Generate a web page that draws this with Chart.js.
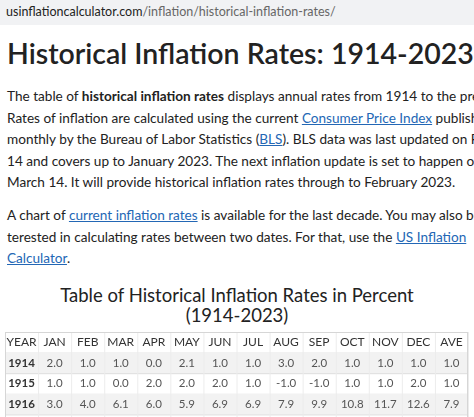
<!DOCTYPE html>
<html><head><meta charset="utf-8">
<script src="https://cdn.jsdelivr.net/npm/chart.js@4/dist/chart.umd.min.js"></script>
<style>
body{margin:0;width:474px;height:417px;overflow:hidden;background:#fff;font-family:Lato,sans-serif;color:#222}
#url{position:absolute;left:0;top:0;width:474px;height:25px;background:#f1f2f4;font-size:12.5px;line-height:24px;padding-left:6px;box-sizing:border-box;color:#666}
#url b{font-weight:normal;color:#222}
h1{position:absolute;left:7px;top:36px;margin:0;font-size:28.5px;font-weight:600;white-space:nowrap;color:#222}
.p{position:absolute;left:7px;font-size:13.6px;line-height:21.5px;color:#222;white-space:nowrap}
a{color:#2367b5;text-decoration:underline}
#tt{position:absolute;left:0;width:474px;top:285px;text-align:center;font-size:18.5px;line-height:20px;color:#222}
#wrap{position:absolute;left:0;top:332px;width:474px;height:103px}
</style></head><body>
<div id="url"><b>usinflationcalculator.com</b>/inflation/historical-inflation-rates/</div>
<h1>Historical Inflation Rates: 1914-2023</h1>
<div class="p" style="top:86px">The table of <b>historical inflation rates</b> displays annual rates from 1914 to the present.<br>Rates of inflation are calculated using the current <a>Consumer Price Index</a> published<br>monthly by the Bureau of Labor Statistics (<a>BLS</a>). BLS data was last updated on Feb.<br>14 and covers up to January 2023. The next inflation update is set to happen on<br>March 14. It will provide historical inflation rates through to February 2023.</div>
<div class="p" style="top:205px">A chart of <a>current inflation rates</a> is available for the last decade. You may also be in-<br>terested in calculating rates between two dates. For that, use the <a>US Inflation</a><br><a>Calculator</a>.</div>
<div id="tt">Table of Historical Inflation Rates in Percent<br>(1914-2023)</div>
<div id="wrap"><canvas id="c"></canvas></div>
<script>
const columns = ["YEAR","JAN","FEB","MAR","APR","MAY","JUN","JUL","AUG","SEP","OCT","NOV","DEC","AVE"];
const years = ["1914","1915","1916","1917"];
const rates1914 = [2.0,1.0,1.0,0.0,2.1,1.0,1.0,3.0,2.0,1.0,1.0,1.0,1.0];
const rates1915 = [1.0,1.0,0.0,2.0,2.0,2.0,1.0,-1.0,-1.0,1.0,1.0,2.0,1.0];
const rates1916 = [3.0,4.0,6.1,6.0,5.9,6.9,6.9,7.9,9.9,10.8,11.7,12.6,7.9];
const rates1917 = [12.5,15.4,14.3,18.9,19.6,20.4,18.5,19.3,19.8,19.5,17.4,18.1,17.4];
const tableRows = [rates1914, rates1915, rates1916, rates1917];
const rowLabels = ["head"].concat(years);

// dibuja la tabla usando las escalas de categoría del gráfico
const tablePlugin = {
  id: "tabla",
  beforeDatasetsDraw(chart) {
    const { ctx, scales: { x, y }, chartArea: a } = chart;
    const cw = x.width / columns.length, rh = y.height / rowLabels.length;
    ctx.save();
    rowLabels.forEach((r, i) => {
      const cy = y.getPixelForValue(i);
      if (i % 2 === 1) { ctx.fillStyle = "#f2f2f2"; ctx.fillRect(a.left, cy - rh / 2, a.right - a.left, rh); }
      ctx.strokeStyle = "#dcdcdc"; ctx.lineWidth = 1;
      ctx.beginPath(); ctx.moveTo(a.left, cy + rh / 2 + 0.5); ctx.lineTo(a.right, cy + rh / 2 + 0.5); ctx.stroke();
    });
    ctx.strokeStyle = "#ececec";
    columns.forEach((c, j) => {
      const cx = x.getPixelForValue(j) + cw / 2;
      ctx.beginPath(); ctx.moveTo(cx + 0.5, a.top); ctx.lineTo(cx + 0.5, a.bottom); ctx.stroke();
    });
    ctx.strokeStyle = "#d6d6d6";
    ctx.strokeRect(a.left + 0.5, a.top + 0.5, a.right - a.left - 1, a.bottom - a.top + 5);
    ctx.textBaseline = "middle"; ctx.textAlign = "center";
    columns.forEach((c, j) => {
      ctx.fillStyle = "#333"; ctx.font = "12px Lato";
      ctx.fillText(c, x.getPixelForValue(j), y.getPixelForValue(0));
    });
    tableRows.forEach((vals, i) => {
      const cy = y.getPixelForValue(i + 1);
      ctx.fillStyle = "#333"; ctx.font = "bold 11.5px Lato";
      ctx.fillText(years[i], x.getPixelForValue(0), cy);
      ctx.font = "11.5px Lato"; ctx.fillStyle = "#555";
      vals.forEach((v, j) => ctx.fillText(v.toFixed(1), x.getPixelForValue(j + 1), cy));
    });
    ctx.restore();
  }
};

new Chart(document.getElementById("c"), {
  type: "scatter",
  plugins: [tablePlugin],
  data: { datasets: [{ data: [] }] },
  options: {
    responsive: true, maintainAspectRatio: false, animation: false,
    layout: { padding: { left: 5, right: 6, top: 0, bottom: 0 } },
    plugins: { legend: { display: false }, tooltip: { enabled: false } },
    scales: {
      x: { type: "category", labels: columns, offset: true, display: false },
      y: { type: "category", labels: rowLabels, offset: true, display: false }
    }
  }
});
</script>
</body></html>
